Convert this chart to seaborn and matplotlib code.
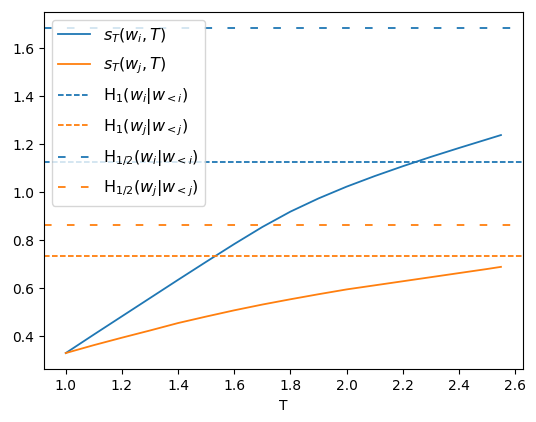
import numpy as np
import pandas as pd
import matplotlib
matplotlib.use("Agg")
import matplotlib.pyplot as plt
import seaborn as sns

# temperature grid and the two score curves
T_vals = [1.0, 1.1, 1.2, 1.3, 1.4, 1.5, 1.6, 1.7, 1.8, 1.9, 2.0, 2.1, 2.2, 2.3, 2.4, 2.5, 2.55]
s_wi = [0.331, 0.408, 0.484, 0.560, 0.636, 0.711, 0.785, 0.856, 0.920, 0.975, 1.024,
        1.068, 1.109, 1.148, 1.185, 1.221, 1.239]
s_wj = [0.331, 0.364, 0.395, 0.425, 0.456, 0.483, 0.509, 0.533, 0.555, 0.576, 0.596,
        0.613, 0.630, 0.647, 0.664, 0.681, 0.690]

# entropy reference levels
H1_wi = 1.128
H1_wj = 0.734
Hhalf_wi = 1.684
Hhalf_wj = 0.865

labels = [r'$s_T(w_i,T)$', r'$s_T(w_j,T)$']
colors = ['#1f77b4', '#ff7f0e']

df = pd.concat([
    pd.DataFrame({'T': T_vals, 's': s_wi, 'curve': labels[0]}),
    pd.DataFrame({'T': T_vals, 's': s_wj, 'curve': labels[1]}),
])

fig = plt.figure(figsize=(5.36, 4.22), dpi=100)
ax = fig.add_axes([0.0821, 0.1249, 0.8931, 0.8467])

lw = 1.3
dense = (0, (3.1, 1.33))
wide = (0, (4.2, 8.5))

sns.lineplot(data=df, x='T', y='s', hue='curve', palette=colors, ax=ax,
             linewidth=lw, legend=False)
for ln, lab in zip(ax.lines, labels):
    ln.set_label(lab)

ax.axhline(H1_wi, color=colors[0], linestyle=dense, lw=lw, label=r'H$_1(w_i|w_{<i})$')
ax.axhline(H1_wj, color=colors[1], linestyle=dense, lw=lw, label=r'H$_1(w_j|w_{<j})$')
ax.axhline(Hhalf_wi, color=colors[0], linestyle=wide, lw=lw,
           label=r'H$_{1/2}(w_i|w_{<i})$')
ax.axhline(Hhalf_wj, color=colors[1], linestyle=wide, lw=lw,
           label=r'H$_{1/2}(w_j|w_{<j})$')

ax.set_xlabel('T')
ax.set_ylabel('')
ax.set_yticks([0.4, 0.6, 0.8, 1.0, 1.2, 1.4, 1.6])
ax.legend(loc='upper left', fontsize=11.5, labelspacing=0.66)

fig.savefig('out.png', dpi=100)
